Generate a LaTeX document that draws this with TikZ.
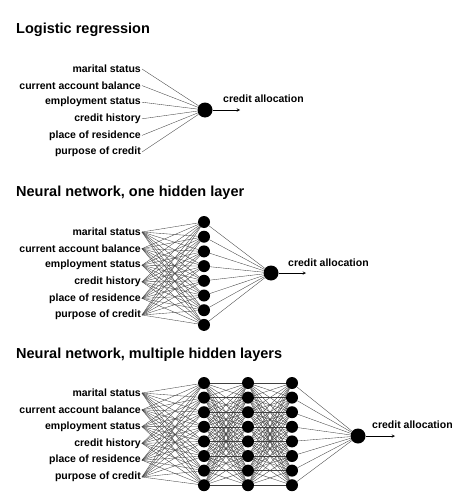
\documentclass[tikz,border=0pt]{standalone}
\usepackage{fontspec}
\setmainfont{Liberation Sans}
\usetikzlibrary{arrows}
\tikzstyle{neuron} = [circle, fill=black, minimum size=12pt, inner sep=0pt]
\tikzstyle{outneuron} = [neuron, minimum size=15pt]
\tikzstyle{feature} = [anchor=east, inner sep=1pt, font=\fontsize{10.5}{12}\selectfont\bfseries]
\tikzstyle{heading} = [anchor=west, inner sep=0pt, font=\fontsize{14.5}{17}\selectfont\bfseries]
\tikzstyle{link} = [black!75, line width=0.35pt]
\tikzstyle{arrow} = [line width=0.5pt, ->, >=stealth]

\begin{document}
\begin{tikzpicture}[x=1pt,y=-1pt]
            \useasboundingbox (0,0) rectangle (474,503);
            % logistic regression
            \node[heading] (t1) at (16,30) {Logistic regression};
            \foreach \txt [count=\i] in {marital status,current account balance,employment status,credit history,place of residence,purpose of credit}
                \node[feature] (a\i) at (142,52.4+16.6*\i) {\txt};
            \node[outneuron] (o1) at (205,110) {};
            \foreach \i in {1,...,6}
                \draw[link] (a\i.east) -- (o1);
            \coordinate (e1) at (240,110);
            \draw[arrow] (o1) -- (e1);
            \node[feature, anchor=west] (y1) at (222,99) {credit allocation};
            % neural network, one hidden layer
            \node[heading] (t2) at (16,193) {Neural network, one hidden layer};
            \foreach \txt [count=\i] in {marital status,current account balance,employment status,credit history,place of residence,purpose of credit}
                \node[feature] (b\i) at (142,215.4+16.6*\i) {\txt};
            \foreach \j in {1,...,8}
                \node[neuron] (h\j) at (204,207.3+14.7*\j) {};
            \node[outneuron] (o2) at (271,273) {};
            \foreach \i in {1,...,6}
                \foreach \j in {1,...,8}
                    \draw[link] (b\i.east) -- (h\j);
            \foreach \j in {1,...,8}
                \draw[link] (h\j) -- (o2);
            \coordinate (e2) at (306,273);
            \draw[arrow] (o2) -- (e2);
            \node[feature, anchor=west] (y2) at (287,263) {credit allocation};
            % neural network, multiple hidden layers
            \node[heading] (t3) at (16,355) {Neural network, multiple hidden layers};
            \foreach \txt [count=\i] in {marital status,current account balance,employment status,credit history,place of residence,purpose of credit}
                \node[feature] (c\i) at (142,376.2+16.8*\i) {\txt};
            \foreach \x [count=\k] in {204,248,292}
                \foreach \j in {1,...,8}
                    \node[neuron] (p\k\j) at (\x,368.4+14.6*\j) {};
            \node[outneuron] (o3) at (358,436) {};
            \foreach \i in {1,...,6}
                \foreach \j in {1,...,8}
                    \draw[link] (c\i.east) -- (p1\j);
            \foreach \j in {1,...,8}
                \foreach \m in {1,...,8} {
                    \draw[link] (p1\j) -- (p2\m);
                    \draw[link] (p2\j) -- (p3\m);
                }
            \foreach \j in {1,...,8}
                \draw[link] (p3\j) -- (o3);
            \coordinate (e3) at (395,436);
            \draw[arrow] (o3) -- (e3);
            \node[feature, anchor=west] (y3) at (371,425) {credit allocation};
\end{tikzpicture}
\end{document}
